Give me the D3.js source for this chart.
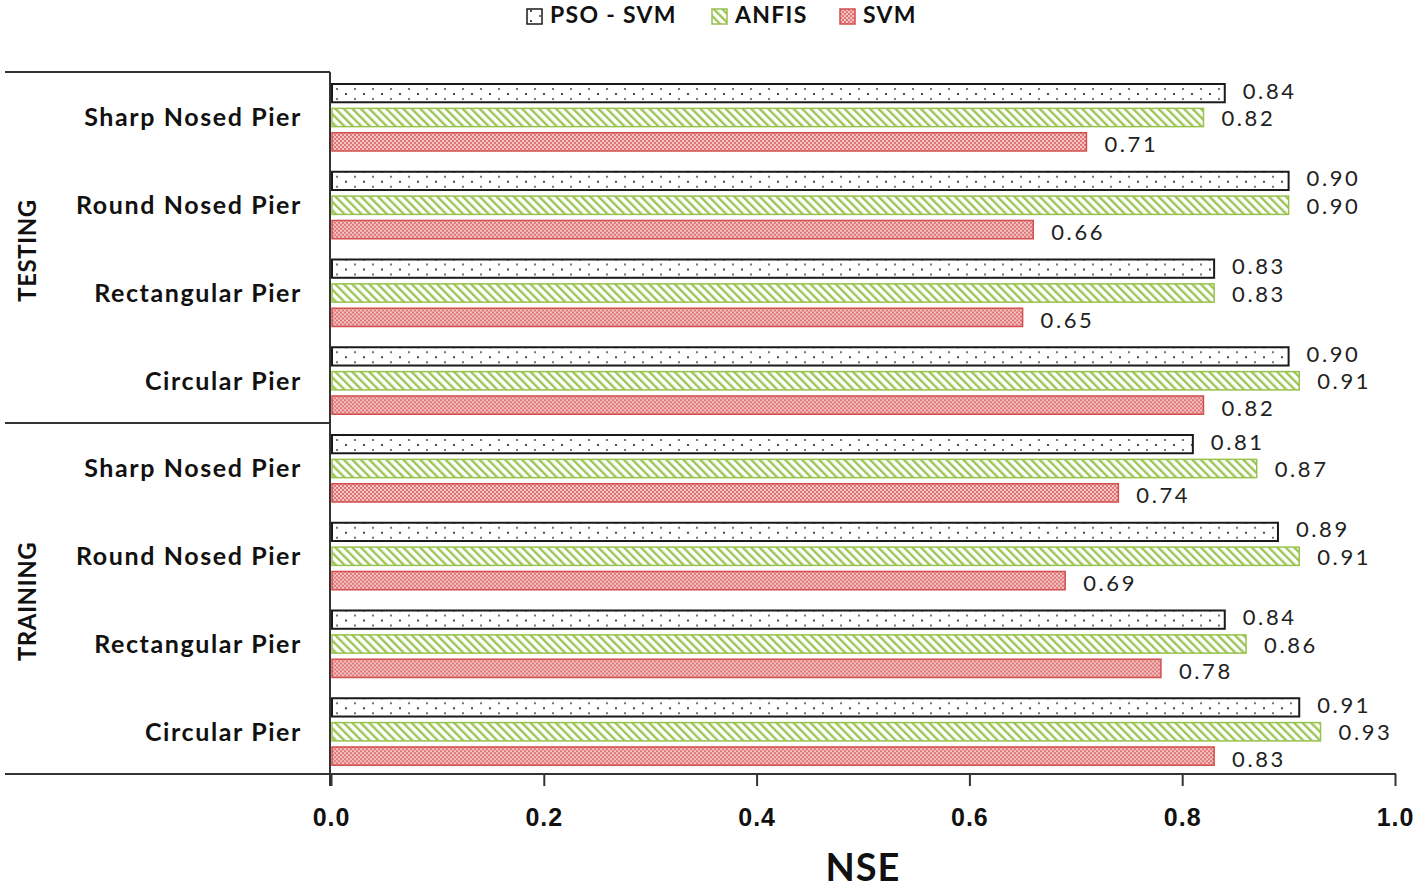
<!DOCTYPE html>
<html>
<head>
<meta charset="utf-8">
<style>
  body { margin: 0; background: white; }
  svg { display: block; font-family: Lato, "Open Sans", sans-serif; }
  .tick-lbl { font-weight: bold; font-size: 25px; fill: #111; letter-spacing: 1px; }
  .cat-lbl { font-weight: bold; font-size: 25px; fill: #111; letter-spacing: 1.6px; }
  .val-lbl { font-size: 22px; fill: #222; letter-spacing: 2.6px; }
</style>
</head>
<body>
<svg id="chart" width="1416" height="891"></svg>
<script src="https://d3js.org/d3.v7.min.js"></script>
<script>
// data, top to bottom
const groups = ["TESTING", "TRAINING"];
const piers = ["Sharp Nosed Pier", "Round Nosed Pier", "Rectangular Pier", "Circular Pier"];
const series = ["PSO - SVM", "ANFIS", "SVM"];
const psoSvm = [0.84, 0.90, 0.83, 0.90, 0.81, 0.89, 0.84, 0.91];
const anfis  = [0.82, 0.90, 0.83, 0.91, 0.87, 0.91, 0.86, 0.93];
const svmVals = [0.71, 0.66, 0.65, 0.82, 0.74, 0.69, 0.78, 0.83];
const xTicks = [0, 0.2, 0.4, 0.6, 0.8, 1.0];

const svg = d3.select("#chart");

// rows are group + pier
let rows = [];
groups.forEach(g => piers.forEach(p => rows.push({ group: g, pier: p, key: g + "|" + p })));
rows.forEach((r, i) => { r.vals = [psoSvm[i], anfis[i], svmVals[i]] });

let margin = { top: 72, left: 330, right: 1395, bottom: 774 };

let x = d3.scaleLinear().domain([0, 1]).range([331, 1395]);
let y = d3.scaleBand().domain(rows.map(r => r.key)).range([margin.top, margin.bottom]);
let ySub = d3.scaleBand().domain(series).range([12, 79]).paddingInner(0.25);

// patterns
let defs = svg.append("defs");
let pDots = defs.append("pattern").attr("id", "pat-pso")
    .attr("patternUnits", "userSpaceOnUse").attr("width", 18).attr("height", 10);
pDots.append("rect").attr("width", 18).attr("height", 10).attr("fill", "white");
pDots.append("circle").attr("cx", 4).attr("cy", 2).attr("r", 1.1).attr("fill", "#222");
pDots.append("circle").attr("cx", 13).attr("cy", 7).attr("r", 1.1).attr("fill", "#555");

let pStripe = defs.append("pattern").attr("id", "pat-anfis")
    .attr("patternUnits", "userSpaceOnUse").attr("width", 6).attr("height", 6)
    .attr("patternTransform", "rotate(-45)");
pStripe.append("rect").attr("width", 6).attr("height", 6).attr("fill", "white");
pStripe.append("rect").attr("width", 2.4).attr("height", 6).attr("fill", "#9cc556");

let pCheck = defs.append("pattern").attr("id", "pat-svm")
    .attr("patternUnits", "userSpaceOnUse").attr("width", 4).attr("height", 4);
pCheck.append("rect").attr("width", 4).attr("height", 4).attr("fill", "#f3c4c4");
pCheck.append("rect").attr("width", 2).attr("height", 2).attr("fill", "#df7575");
pCheck.append("rect").attr("x", 2).attr("y", 2).attr("width", 2).attr("height", 2).attr("fill", "#df7575");

let fills = { "PSO - SVM": "url(#pat-pso)", "ANFIS": "url(#pat-anfis)", "SVM": "url(#pat-svm)" };
let strokes = { "PSO - SVM": "#1a1a1a", "ANFIS": "#97c24e", "SVM": "#d24f4f" };
// small vertical nudge of the value labels, as in the original
let lblShift = { "PSO - SVM": 0, "ANFIS": 3, "SVM": 5 };

// bars
let rowG = svg.append("g").selectAll("g.row")
    .data(rows)
    .join("g")
    .attr("class", "row")
    .attr("transform", d => `translate(0,${y(d.key)})`);

rowG.selectAll("rect")
    .data(d => d.vals.map((v, i) => ({ s: series[i], v: v })))
    .join("rect")
    .attr("x", x(0) + 1)
    .attr("y", d => ySub(d.s))
    .attr("width", d => x(d.v) - x(0) - 1)
    .attr("height", ySub.bandwidth())
    .attr("fill", d => fills[d.s])
    .attr("stroke", d => strokes[d.s])
    .attr("stroke-width", d => d.s == "PSO - SVM" ? 2 : 1.5);

rowG.selectAll("text.val-lbl")
    .data(d => d.vals.map((v, i) => ({ s: series[i], v: v })))
    .join("text")
    .attr("class", "val-lbl")
    .attr("x", d => x(d.v) + 18)
    .attr("y", d => ySub(d.s) + ySub.bandwidth() / 2 + lblShift[d.s])
    .attr("dominant-baseline", "middle")
    .text(d => d3.format(".2f")(d.v));

// category labels
svg.append("g").selectAll("text")
    .data(rows)
    .join("text")
    .attr("class", "cat-lbl")
    .attr("x", 302)
    .attr("y", d => y(d.key) + y.bandwidth() / 2 + 4)
    .attr("text-anchor", "end")
    .attr("dominant-baseline", "middle")
    .text(d => d.pier);

// group labels and separators
groups.forEach((g, gi) => {
    let first = y(g + "|" + piers[0]);
    let last = y(g + "|" + piers[piers.length - 1]) + y.bandwidth();
    let cy = (first + last) / 2;
    svg.append("text")
        .attr("transform", `translate(30,${cy + 3}) rotate(-90)`)
        .attr("text-anchor", "middle")
        .attr("dominant-baseline", "middle")
        .style("font-weight", "bold").style("font-size", "24px").style("fill", "#111")
        .style("letter-spacing", "0.5px")
        .text(g);
    svg.append("line")
        .attr("x1", 5).attr("x2", margin.left)
        .attr("y1", first).attr("y2", first)
        .attr("stroke", "#333").attr("stroke-width", 2);
});

// x axis
let xAxis = svg.append("g")
    .attr("transform", `translate(0,${margin.bottom})`)
    .call(d3.axisBottom(x).tickValues(xTicks).tickSize(12).tickPadding(22).tickFormat(d3.format(".1f")));
xAxis.select(".domain").remove();
xAxis.selectAll(".tick line").attr("stroke", "#333").attr("stroke-width", 2);
xAxis.selectAll(".tick text").attr("class", "tick-lbl").attr("font-family", null).attr("font-size", null);

svg.append("line")
    .attr("x1", 5).attr("x2", x(1) + 1)
    .attr("y1", margin.bottom).attr("y2", margin.bottom)
    .attr("stroke", "#333").attr("stroke-width", 2);
svg.append("line")
    .attr("x1", margin.left).attr("x2", margin.left)
    .attr("y1", margin.top).attr("y2", margin.bottom + 12)
    .attr("stroke", "#333").attr("stroke-width", 2);

svg.append("text")
    .attr("x", 863).attr("y", 871)
    .attr("text-anchor", "middle")
    .attr("dominant-baseline", "middle")
    .style("font-weight", "bold").style("font-size", "38px").style("fill", "#111")
    .style("letter-spacing", "1px")
    .text("NSE");

// legend
let legX = [527, 712, 840];
let leg = svg.append("g").selectAll("g")
    .data(series)
    .join("g")
    .attr("transform", (d, i) => `translate(${legX[i]},9)`);
leg.append("rect")
    .attr("width", 15).attr("height", 15)
    .attr("fill", d => fills[d])
    .attr("stroke", d => strokes[d])
    .attr("stroke-width", 1.5);
leg.append("text")
    .attr("x", 23).attr("y", 8)
    .attr("dominant-baseline", "middle")
    .style("font-weight", "bold").style("font-size", "23px").style("fill", "#111")
    .style("letter-spacing", "1.3px")
    .text(d => d);
</script>
</body>
</html>
